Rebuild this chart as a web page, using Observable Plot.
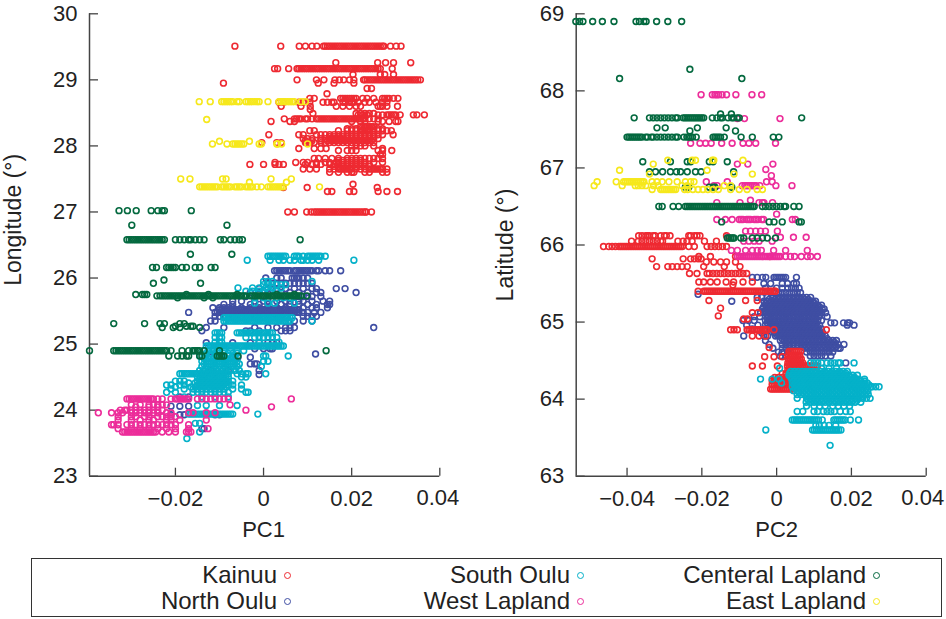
<!DOCTYPE html>
<html>
<head>
<meta charset="utf-8">
<script src="https://cdn.jsdelivr.net/npm/d3@7"></script>
<script src="https://cdn.jsdelivr.net/npm/@observablehq/plot@0.6"></script>
<style>
html,body{margin:0;padding:0;background:#fff;font-family:"Liberation Sans",Arial,sans-serif;}
#page{position:relative;width:946px;height:619px;overflow:hidden;}
#left,#right{position:absolute;top:0;}
#left{left:0;} #right{left:473px;}
#legend{position:absolute;left:31px;top:558px;width:911px;height:59px;border:1.5px solid #333;box-sizing:border-box;}
.lg{position:absolute;font-size:24px;color:#222;line-height:26px;text-align:right;white-space:nowrap;}
.rg{position:absolute;width:7px;height:7px;border-radius:50%;border:1.6px solid;box-sizing:border-box;}
</style>
</head>
<body>
<div id="page"><div id="left"></div><div id="right"></div><div id="legend"></div></div>
<script>
// Each row: [latitude or longitude, [PC score x 1000, ...]]
const names = ["Kainuu","North Oulu","South Oulu","West Lapland","Centeral Lapland","East Lapland"];
const colors = ["#ee2a32","#3f4ea3","#05b1c9","#ec2d9a","#04693f","#f6e81c"];
const drawOrder = ["North Oulu","Kainuu","South Oulu","West Lapland","Centeral Lapland","East Lapland"];
const xTicksPC1 = [-0.02,0,0.02,0.04];
const xTicksPC2 = [-0.04,-0.02,0,0.02,0.04];
const yTicksLon = [23,24,25,26,27,28,29,30];
const yTicksLat = [63,64,65,66,67,68,69];

const kainuuPC1 = [
[29.51,[-6.5,3.9,8.1,9.5,11,12.1,13.6,14,14.5,15,15.5,16,16.5,17,17.5,18,18.5,19,19.5,20,20.5,21,21.5,22,22.5,23,23.5,24,24.5,25,25.5,26,26.5,27,27.3,28.8,30.1,31.2]],
[29.26,[16.4,25.9,27.7,29.5,33.4]],
[29.17,[2.5,3.2,5.7,7.6,8,8.5,9,9.5,10,10.5,11,11.5,12,12.5,13,13.5,14,14.5,15,15.5,16,16.5,17,17.5,18,18.5,19,19.5,20,20.5,21,21.5,22,22.5,23,23.5,24,24.5,25,25.5,26,26.5,29.2]],
[29.08,[20.3,26.5,27.5,29.5]],
[29.0,[7.6,12,13.7,16.2,17.2,18.2,19.5,20.5,22.7,23,23.5,24,24.5,25,25.5,26,26.5,27,27.5,28,28.5,29,29.5,30,30.5,31,31.5,32,32.5,33,33.5,34,34.5,35,35.6]],
[28.95,[-9.1,12.4,16,20.5]],
[28.87,[23.5,24.5]],
[28.79,[14.4]],
[28.72,[10.5,11.5,17.5,18,18.5,19,19.5,20,20.5,21,22.5,23.5,25,27,27.5,28,28.5,29.5,30.5]],
[28.66,[3.5,4.5,8,9,10.5,13.5,14.5,15.5,16,18,18.5,19.5,20,20.5,21.5,23,24,25.5,27,28]],
[28.6,[4,8.5,10.6,16.5,18,19.5,21,22,26,26.5,27,28,30.4]],
[28.55,[10.6]],
[28.49,[11.2,21,22,23,24,25]],
[28.47,[21.5,22.5,23.5,26,27,28,28.5,29,29.5,30,31,34,34.8,36.5]],
[28.41,[4.7,7,7.5,8,8.5,9.5,10,11,12,12.5,13,13.5,14,14.5,15,15.5,16,16.5,17,17.5,18,18.5,19,19.5,20,20.5,21,21.5,22,22.5,23,24,25,26]],
[28.37,[1.7,6,7,20,22,23,26,27,28.5,30,30.5]],
[28.29,[22,23,24,24.5,25,23.5]],
[28.26,[19,20,21,22,23,24,25,26,27]],
[28.23,[10.5,11.5,17,19,20,21,22,22.5,23,23.5,24,25,26,27,28,29]],
[28.17,[1.2,8,9,12,13,14,15,16,17,18,19,20,21,22,23,24,25,26,27,29.4]],
[28.14,[15,16,17,18,19,20,21,22,23,24,25]],
[28.11,[9,10,11,13,14,15,15.5,16,16.5,17,17.5,18,19,20,21,22,23,24,25,26]],
[28.08,[9.5,11,13,14.5,15.5,16.5,17.5,18.5,19.5,20.5,21.5,22.5,23.5,24.5]],
[28.05,[-0.4,3,4,9.5,10.5,11.5,13,14,15,16,17,18,19,20,21,22,23,24,25]],
[28.0,[20,21,22,23,25]],
[27.96,[8,11.5,13,14.2,27]],
[27.93,[17,19,20,21,26,27,29.1]],
[27.87,[26.5,27]],
[27.81,[11.5,12.5,14,15.5,17,19,20,21,22,23,24,25,26,27]],
[27.78,[17,18,19,20,21,22]],
[27.75,[2.6,7.3,9,10,12,14,15,16.5,17,18,19,20,21,22,23,25,27]],
[27.72,[-3.1,0,2.6,3.5,4.5,9.5,11,12,13,15,16,17,18,19,20,21,22,23,24]],
[27.69,[16,17,18,19,20,21,22,23,24]],
[27.65,[9,10.5,12,15,16,17,17.5,18,18.5,19,19.5,20,21,22,23,24,24.5,25,25.5,26,26.5,27,28]],
[27.6,[15,17,19,20,20.5,23,24,27,28]],
[27.42,[20.3]],
[27.37,[4.5,9.9,25.8]],
[27.31,[14.5,15.5,19.5,20.5,26,28,30.4]],
[27.0,[5.5,7,9.8,10.8,11.5,12,12.5,13,13.5,14,14.5,15,15.5,16,16.5,17,17.5,18,18.5,19,19.5,20,20.5,21,21.5,22,22.5,23,23.3,24.5]]
];
const northPC1 = [
[26.11,[2.5,3,3.5,4,4.5,5,5.5,6,7,7.5,8,8.5,9,9.5,10,10.5,11,12,12.5,14,15,17.5]],
[26.0,[0.5,3,4,6.5,7,7.5,8,9,10]],
[25.92,[1,2,3,4,5,6,7,8,9,10,11]],
[25.84,[-1,1,3,5,7,9,11,12,16.5,18.5]],
[25.78,[-3,-1,1,4,6,8,10,12,13,21]],
[25.72,[-4,-2,0,5,7,8,9,10,11,13]],
[25.65,[-7,-5,-2,0,1,3,5,6,8,9,11,13.5,15]],
[25.6,[-9,-7,-3,-1,1,4,6,8,10,12,14.5,15]],
[25.55,[-11.5,-10,-9,-8,-7,-5,-3,-1,1,3,5,7,9,11,12,14.5]],
[25.52,[-10,-9.5,-9,-8.5,-8,-7.5,-7,-6.5,-6,-5.5,-5,-4.5,-4,-3.5,-3,-2.5,-2,-1.5,-1,-0.5,0,0.5,1,1.5,2,2.5,3,3.5,4,4.5,5,5.5,6,6.5,7,7.5,8]],
[25.48,[-17,-11,-10.5,-10,-9.5,-9,-8.5,-8,-7.5,-7,-6.5,-6,-5.5,-5,-4.5,-4,-3.5,-3,-2.5,-2,-1.5,-1,-0.5,0,0.5,1,1.5,2,2.5,3,3.5,4,4.5,5,5.5,6,6.5,7,7.5,8,9,10,11.5,13]],
[25.42,[-11,-10,-9,-8,-7,-6,-5,-4,-3,-2,-1,0,1,2,3,4,9,10,11,12]],
[25.35,[-12,-11,7,9,11]],
[25.25,[-13,-9,-2,1,3,5,6,7,25]],
[25.2,[-14,-4,-3,-1,4,5,6]],
[25.02,[-13,-7,-3,-1,1,2,3]],
[24.93,[-2,0,1.5,2]],
[24.85,[11.8]],
[24.8,[-12,-9,-7,-5.8,-3]],
[24.7,[-3,-2,-1.5]],
[24.6,[-12,-8,-1]],
[24.54,[-1]],
[24.2,[-19,-17]],
[24.06,[-21,-19,-17]],
[23.93,[-21,-19,-18,-13,-11,-10]],
[23.72,[-14,-13.5]]
];
const southPC1 = [
[26.33,[1,1.5,2,2.5,3,3.5,4,4.5,5,7,7.5,8,9,10,10.5,11,11.5,12,12.5,13,14]],
[26.27,[-3.7,1.5,3.5,4.5,6,7,8.5,9,10,11,12.5,20.5]],
[25.95,[0,1,2,11]],
[25.9,[0,1,2,3,4,5]],
[25.85,[-5.8,-2.5,-1,0.5,2,4]],
[25.8,[-4,-2.5,-1,0,1.5,3]],
[25.7,[-2,0,3,4.5,6]],
[25.62,[-2,1,2.5,7]],
[25.4,[-9,-8.5,-8,-7.5,-7,-6.5,-6,-5.5,-5,-4.5,-4,-3.5,-3,-2.5,-2,-1.5,-1,-0.5,0,0.5,1,1.5,2,2.5,3,3.5,4,4.5,5,5.5,6,6.5]],
[25.35,[-9,-8.5,-8,-7.5,-7,-6.5,-6,-5.5,-5,-4.5,-4,-3.5,-3,-2.5,-2,-1.5,-1,-0.5,0,0.5,1,1.5,2,2.5,3,3.5,4,4.5,5,5.5,6,11]],
[25.17,[-11,-10.5,-10,-9.5,-6,-5.5,-5,-4.5,-4,-3.5,-3,-2.5,-2,-1.5,-1,-0.5,0,0.5,1,1.5,2]],
[25.1,[-11,-10,-9.5,-4,-2,-1,0,1,2,3]],
[25.03,[-11,-10,-9.5,-1,3.5]],
[24.97,[-13,-12.5,-12,-11.5,-11,-10.5,-10,-9.5,-9,-8.5,-8,-7.5,-7,-6.5,-6,-5.5,-5,-4.5,-4,-3.5,-3,-2.5,-2,-1.5,-1,-0.5,0,0.5,1,1.5,2,2.5,3,3.5,4,4.5]],
[24.9,[-16,-15,-13.5,-12.5,-11.5,-10.5,-9,-7.5,-6,-4.5]],
[24.86,[-13,-12,-11,-10,-9,-8,-7,-6]],
[24.82,[-14.5,-13.5,-12,-10.5,-9,-8,-6.5,0,0.5,5.6]],
[24.78,[-13.5,-12.5,-11.5,-10.5,-9.5,-8.5,-7.5,-6.5]],
[24.74,[-14,-13,-12,-11,-10,-9,-8,-7,-6,0,1]],
[24.7,[-13.5,-12.5,-11.5,-10.5,-9.5,-8.5,-7.5,-6.5,-5.5]],
[24.66,[-14,-13,-12,-11,-10,-9,-8,-7,-6,-0.5]],
[24.6,[-14.5,-13.5,-12.5,-11.5,-10.5,-9.5,-8.5,-7.5,-6.5,-5.5]],
[24.55,[-19,-18.5,-18,-17.5,-17,-16.5,-16,-15.5,-15,-14.5,-14,-13.5,-13,-12.5,-12,-11.5,-11,-10.5,-10,-9.5,-9,-8.5,-8,-6,-5,-4,-3.5,0.5]],
[24.5,[-15,-14,-13,-12,-11,-10,-9,-8,-5,-4]],
[24.47,[-14.5,-13.5,-12.5,-11.5,-10.5,-9.5,-8.5]],
[24.44,[-20,-19,-18,-15,-14,-13,-12,-11,-10,-9,-8,-7]],
[24.41,[-17,-15.5,-14.5,-13.5,-12.5,-11.5,-10.5,-9.5,-8.5]],
[24.38,[-22,-21,-19,-18,-15,-14,-13,-12,-11,-10,-9,-8,-7,-5]],
[24.35,[-20,-16.5,-15.5,-14.5,-13.5,-12.5,-11.5,-10.5,-9.5,-8.5]],
[24.32,[-21,-18,-16,-15,-14,-13,-12,-11,-10,-9,-7,-5]],
[24.27,[-22,-20,-16,-15,-14,-13,-12,-11,-10,-9,-8,-4,-3.5]],
[24.2,[-18,-14,-11,-8]],
[24.07,[-15,-13,-10,-6]],
[23.94,[-17,-16.5,-16,-15.5,-15,-14.5,-14,-13.5,-13,-12.5,-12,-11.5,-11,-10.5,-10,-9.5,-9,-8.5,-8,-7.5,-7,-1.3]],
[23.8,[-15.5,-14.5]],
[23.67,[-14.5]],
[23.57,[-17.4]]
];
const westPC1 = [
[24.17,[-31,-30.5,-30,-29.5,-29,-28.5,-28,-27.5,-27,-26.5,-26,-25.5,-25,-24,-23,-21,-20,-19.5,-19,-18.5,-18,-17.5,-17,-15,-14,-13,-12,-11,-10,-9,-8,6.3]],
[24.08,[-30,-28,-26,-25,-24,-23,-22,-7.6]],
[24.05,[-29,-26,-24,1.8]],
[24.0,[-32.5,-31.5,-31,-30,-29,-28,-27,-26,-25,-24,-23,-4]],
[23.96,[-37.5,-34.5,-33,-32,-30,-29,-28,-27,-26,-25,-24,-22,-21,-17,-16,-13,-11]],
[23.9,[-33,-30,-29,-27,-26,-24,-23,-22,-21,-20]],
[23.85,[-33,-30,-28,-26,-25,-22,-21,-19,-13]],
[23.78,[-34.5,-34,-33,-31,-30,-29,-28,-27,-26,-25,-24,-23,-22,-21,-20,-17]],
[23.72,[-33,-30,-28,-26,-24,-22,-20,-17,-12.6]],
[23.67,[-32,-31.5,-31,-30.5,-30,-29.5,-29,-28.5,-28,-27.5,-27,-26.5,-26,-25.5,-25,-24.5,-23,-21.5,-20,-17.5,-17,-16.5]]
];
const centralPC1 = [
[27.02,[-32.8,-30.9,-28.9,-25.5,-24,-23,-22.5,-16.4]],
[26.8,[-29.9,-8.3]],
[26.58,[-31,-30.5,-30,-29.5,-29,-28.5,-28,-27.5,-27,-26.5,-26,-25.5,-25,-24.5,-24,-23.5,-23,-22.5,-20,-19,-18,-17,-16.5,-15.5,-14.5,-13.5,-9.8,-9,-7.5,-6.5,-5.5,-4.8,8.3]],
[26.36,[-16.6,-7.2]],
[26.16,[-25.2,-24.3,-22,-21.5,-21,-20.5,-20,-18.5,-17.5,-15.5,-14.5,-11.9,-11]],
[25.97,[-22.6]],
[25.92,[-25,-14.3]],
[25.75,[-29,-27.5,-27,-26.5,-17.5,-12.5,-6,3,7]],
[25.73,[-24.2,-23.5,-23,-22.5,-22,-21.5,-21,-20.5,-20,-19.5,-19,-18.5,-18,-17.5,-17,-16.5,-16,-15.5,-15,-14.5,-14,-13.5,-13,-12.5,-12,-11.5,-11,-10.5,-10,-9.5,-9,-8.5,-8,-7.5,-7,-6.5,-6,-5.5,-5,-4.5,-4,-3,-2.5,-2,-1.5,-1,-0.5,0,0.5,1,1.5,2,2.5,3,3.5,4,4.5,5,5.5,6,6.5,7,7.5,8,8.5,9.8]],
[25.7,[-19.5,-13.5,-11.5]],
[25.31,[-34,-27,-23.5,-22.5,-19,-18]],
[25.27,[-20,-17.5,-16.5,-16]],
[25.25,[-23,-20.5,-19,-14.5]],
[24.9,[-39.5,-34,-33.5,-33,-32.5,-32,-31.5,-31,-30.5,-30,-29.5,-29,-28.5,-28,-27.5,-27,-26.5,-26,-25.5,-25,-24.5,-24,-23.5,-23,-22.5,-22,-21,-18.5,-17,-16,-15.5,-15,-14.5,-13.5,-10,14.2]],
[24.82,[-21.5,-19.5,-18.5,-17.5,-17,-14.5,-14,-10.5,-10,-9.5,-9,-5.8]]
];
const eastPC1 = [
[28.67,[-14.6,-12.1,-9.5,-9,-8.5,-8,-7.5,-7,-6,-5.5,-4,-3.5,-3,-2.5,-2,-1.5,-1,1,3.5,4,4.5,5,5.5,6,6.5,7,8.5,9.5]],
[28.4,[-12.9]],
[28.07,[-10,-3.2]],
[28.03,[-11.6,-8.3,-7,-6.5,-6,-5.5,-5,-4.5,-1,-0.5,3,3.2,4.1,10]],
[27.5,[-18.8,-16.7,-9.3,-8.5,1.7,6.3]],
[27.45,[-3.2,5.2]],
[27.38,[-14.5,-14,-13.5,-13,-12.5,-12,-11.5,-11,-10.5,-9.5,-9,-8.5,-8,-7.5,-6.5,-6,-5.5,-5,-4,-3.5,-3,-2.5,-1.5,-0.5,1,1.5,2,2.5,3,3.5,4,4.5,12.7]]
];

const kainuuPC2 = [
[66.12,[-36.9,-36,-35,-34.5,-34,-33,-32.5,-31,-30,-29.5,-28.5,-23.5,-23,-22,-21.3,-20.5,-13.4]],
[66.05,[-38.8,-37,-36,-35,-34,-33,-32,-31,-30.5,-26.4,-25,-24,-22.6,-19.3,-16.1]],
[65.98,[-46.3,-44.9,-44,-43.1,-42.2,-41.7,-41.2,-40.7,-40.2,-39.7,-39.2,-38.7,-38.2,-37.7,-37.2,-36.7,-36.2,-35.7,-35.2,-34.7,-34.2,-33.7,-33.2,-32.7,-32.2,-31.7,-31.2,-30.7,-30.2,-29.7,-29.2,-28.7,-28.2,-27.7,-27.2,-26.7,-26.2,-25.7,-25.2,-23.5,-22,-18.6,-17.5,-16.5,-15.5,-14.5,-13.4]],
[65.85,[-20.8,-17.7,-11,-1.8]],
[65.82,[-33.3,-25,-23,-22,-21,-20.2]],
[65.78,[-18.8,-16.8,-15,-13.4,-11]],
[65.72,[-32.1,-29.1,-27.9,-26.6,-25.3,-23.9,-19.5,-14,-9.8]],
[65.63,[-23.3,-21.3,-18.6,-18,-17,-16,-15,-14,-13,-12,-11,-10,-9,-8]],
[65.52,[-20.8,-19.5,-17.7,-15.9,-13.5,-11.5,-9,-6.5]],
[65.48,[-11.7]],
[65.4,[-21,-19.5,-19,-18.5,-18,-17.5,-17,-16.5,-16,-15.5,-15,-14.5,-14,-13.5,-13,-12.5,-12,-11.5,-11,-10.5,-10,-9.5,-9,-8.5,-8,-7.5,-7,-6.5,-6,-5.5,-5,-4.5,-4,-3.5,-3,-2.5,-2,-1.5,-1,-0.5,-0.3]],
[65.28,[-18.1,-8.3,-5.2]],
[65.18,[-15]],
[65.12,[-6.5,-5]],
[65.08,[-15.6]],
[65.04,[-8.8,-7.8]],
[64.9,[-12.3,-11.4,-10.5,-7.9,-7.4,-6.9,-6.4,-5.9,-5.4,-4.9,-4.4,-3.9,-3.4,-2.9,-2.5,-0.7,13.3]],
[64.82,[-6.5,-4.7,-2.9]],
[64.67,[-2]],
[64.62,[3.3,3.8,4.3,4.8,5.3,5.8,6.4]],
[64.57,[3.2,3.7,4.2,4.7,5.2,5.7,6.2]],
[64.55,[-3.2,-0.7,1.5]],
[64.52,[3.1,3.6,4.1,4.6,5.1,5.6,6.1,6.6]],
[64.47,[3,3.5,4,4.5,5,5.5,6,6.5,7]],
[64.43,[-6.5,-3.8,0.2,2.9,3.4,3.9,4.4,4.9,5.4,5.9,6.4,6.9,7.4,7.9,8.4,8.9,9.4,9.9,10.4,10.9]],
[64.38,[3,3.5,4,4.5,5,5.5,6]],
[64.33,[1.5,2.5,3.5]],
[64.28,[-0.5,0.5,1.5,2.5,3.5]],
[64.24,[-1.2,-0.7,-0.2,0.3,0.8,1.3,1.8,2.3,2.8,3.3,3.8,4.2]],
[64.19,[-1.2,-0.7,-0.2,0.3,0.8,1.3,1.8,2.3,2.8,3.3,3.8,4.2]],
[64.13,[-1.6,-1.1,-0.6,-0.1,0.4,0.9,1.4,1.9,2.4,2.9,3.4,3.9,4.2]]
];
const northPC2 = [
[65.58,[-6.5,-5.2,-3.8,-2.9,-0.7,-0.2,0.3,0.8,1.3,1.8,2.4,5.3]],
[65.5,[-3.4,-1.6,1.5,2.9,4.6,5.3]],
[65.44,[-3,0,1.5,3,4,5,6]],
[65.38,[-1.6,-0.5,0.5,1.5,2.5,3.5,4.5,5.5,6.4]],
[65.36,[-21]],
[65.32,[-5.2,-4,-2.5,-1,0,1,2,3,4,5,6,7,8,9.1]],
[65.295,[-2,-0.5,0.5,1.5,2.5,3.5,4.5,5.5,6.5,7.5,8.5]],
[65.27,[-12,-3.4,-2.4,-1.4,-0.4,0.6,1.6,2.6,3.6,4.6,5.6,6.6,7.6,8.6,9.6,10.4]],
[65.245,[-2.9,-1.9,-0.9,0.1,1.1,2.1,3.1,4.1,5.1,6.1,7.1,8.1,9.1,10.1]],
[65.22,[-3,-2,-1,0,1,2,3,4,5,6,7,8,9,10,11,12]],
[65.195,[-3.5,-2.5,-1.5,-0.5,0.5,1.5,2.5,3.5,4.5,5.5,6.5,7.5,8.5,9.5,10.5,11.5]],
[65.17,[-3.8,-2.8,-1.8,-0.8,0.2,1.2,2.2,3.2,4.2,5.2,6.2,7.2,8.2,9.2,10.2,11.2,12.2,12.7]],
[65.145,[-3.3,-2.3,-1.3,-0.3,0.7,1.7,2.7,3.7,4.7,5.7,6.7,7.7,8.7,9.7,10.7,11.7]],
[65.12,[-4.3,-3,-2,-1,0,1,2,3,4,5,6,7,8,9,10,11,12,13.1]],
[65.095,[-2.5,-1.5,-0.5,0.5,1.5,2.5,3.5,4.5,5.5,6.5,7.5,8.5,9.5,10.5,11.5]],
[65.07,[-6,-4.5,-2.5,-1.5,-0.5,0.5,1.5,2.5,3.5,4.5,5.5,6.5,7.5,8.5,9.5,10.5,11.3,13.5]],
[65.045,[-2.5,-1.5,-0.5,0.5,1.5,2.5,3.5,4.5,5.5,6.5,7.5,8.5,9.5,10.5]],
[65.02,[-9,-7.5,-6,-3,-2,-1,0,1,2,3,4,5,6,7,8,9,10,11,12]],
[64.99,[-2.5,-1.5,-0.5,0.5,1.5,2.5,3.5,4.5,5.5,6.5,7.5,8.5,9.5,10.5,14.5,15.5,17.9,19,19.5]],
[64.96,[-8,-5,-3,-1.5,-0.5,0.5,1.5,2.5,3.5,4.5,5.5,6.5,7.5,8.5,9.5,10.5,11.5,18.9,20.7]],
[64.935,[-2,-1,0,1,2,3,4,5,6,7,8,9,10,11]],
[64.91,[-6.5,-3.3,-2,-1,0,1,2,3,4,5,6,7,8,9,10,11,12]],
[64.885,[-0.5,0.5,1.5,2.5,3.5,4.5,5.5,6.5,7.5,8.5,9.5,10.5,11.5]],
[64.86,[-4,-0.7,0.3,1.3,2.3,3.3,4.3,5.3,6.3,7.3,8.3,9.3,10.3,11.3,12.3]],
[64.84,[0,1,2,3,4,5,6,7,8,9,10,11,12]],
[64.82,[-8.8,-3.4,-2.4,-0.3,0.7,1.7,2.7,3.7,4.7,5.7,6.7,7.7,8.7,9.7,10.7,11.7,13]],
[64.785,[1.5,2.5,3.5,4.5,5.5,6.5,7.5,8.5,9.5,10.5,11.5,12.5,13.5]],
[64.76,[-3,1,2,3,4,5,6,7,8,9,10,11,12,13,14,15,16]],
[64.735,[2.5,3.5,4.5,5.5,6.5,7.5,8.5,9.5,10.5,11.5,12.5,13.5,14.5,15.5]],
[64.71,[-2,1.5,2.5,3.5,4.5,5.5,6.5,7.5,8.5,9.5,10.5,11.5,12.5,13.5,14.5,15.5,16.5,18]],
[64.685,[7,8,9,10,11,12,13,14,15,16]],
[64.66,[-1,1.5,2.5,3.5,7.5,8.5,9.5,10.5,11.5,12.5,13.5,14.5,15.5,16.5,17]],
[64.61,[0.5,1.5,3,8,9,10,11,12,13,14,15]],
[64.56,[1,2.5,9,10,11,12,13,14.5]],
[64.47,[18.5]]
];
const southPC2 = [
[64.47,[9.1,10,11,12,13.5,14.5,15.5,16.5,17,20.7]],
[64.4,[12,14,16,0.8]],
[64.36,[3.8,4.8,5.8,6.8,7.8,8.8,9.8,10.8,11.8,12.8,13.8,14.8,15.8,16.8,17.8,18.9]],
[64.335,[3.5,4.5,5.5,6.5,7.5,8.5,9.5,10.5,11.5,12.5,13.5,14.5,15.5,16.5,17.5,18.5]],
[64.31,[3.3,4.3,5.3,6.3,7.3,8.3,9.3,10.3,11.3,12.3,13.3,14.3,15.3,16.3,17.3,18.3,19.3,20.3,21.6]],
[64.285,[3.8,4.8,5.8,6.8,7.8,8.8,9.8,10.8,11.8,12.8,13.8,14.8,15.8,16.8,17.8,18.8,19.8,20.8]],
[64.26,[-4.3,-1.2,0.6,4,5,6,7,8,9,10,11,12,13,14,15,16,17,18,19,20,21,22,23.5]],
[64.235,[4.5,5.5,6.5,7.5,8.5,9.5,10.5,11.5,12.5,13.5,14.5,15.5,16.5,17.5,18.5,19.5,20.5,21.5,22.5,23.5]],
[64.21,[1.3,4.2,5.2,6.2,7.2,8.2,9.2,10.2,11.2,12.2,13.2,14.2,15.2,16.2,17.2,18.2,19.2,20.2,21.2,22.2,23.2,24.2]],
[64.185,[4.7,5.7,6.7,7.7,8.7,9.7,10.7,11.7,12.7,13.7,14.7,15.7,16.7,17.7,18.7,19.7,20.7,21.7,22.7,23.7,24.7]],
[64.16,[4.2,5.2,6.2,7.2,8.2,9.2,10.2,11.2,12.2,13.2,14.2,15.2,16.2,17.2,18.2,19.2,20.2,21.2,22.2,23.2,24.2,25.2,25.6,26.5,27.4]],
[64.135,[5,6,7,8,9,10,11,12,13,14,15,16,17,18,19,20,21,22,23,24]],
[64.11,[4.5,5.5,6.5,7.5,8.5,9.5,10.5,11.5,12.5,13.5,14.5,15.5,16.5,17.5,18.5,19.5,20.5,21.5,22.5,23.5,24.4]],
[64.085,[6,7,8,9,10,11,12,13,14,15,16,17,18,19,20,21,22,23,24]],
[64.06,[5.5,6.5,7.5,8.5,9.5,10.5,11.5,12.5,13.5,14.5,15.5,16.5,17.5,18.5,19.5,20.5,21.5,22.5,23.5,24.5]],
[64.035,[8,9,10,11,12,13,14,15,16,17,18,19,20,21,22,23]],
[64.01,[5.5,8,9,10,11,12,13,14,15,16,17,18,19,20,21,22,23,24,25]],
[63.985,[8.5,9.5,10.5,11.5,12.5,13.5,14.5,15.5,16.5,17.5,18.5,19.5,20.5,21.5]],
[63.96,[7.9,9,10,11,12,13,14,15,16,17,18,19,20,21,22.5]],
[63.91,[8,10,11.5,13,15,16.5,18,19.5]],
[63.84,[5.5,7,10,11,12.5,13.5,14.5,15.5,17,18.5,19.7]],
[63.73,[4.2,4.7,5.2,5.7,6.2,6.7,7.2,7.7,8.2,8.7,9.2,9.7,10.2,10.7,11.2,12.2,15.3,15.8,16.3,16.8,17.3,17.8,18.3,19.7,21.9]],
[63.66,[10.5,11.4,12.7,14,15.8]],
[63.6,[-2.9,9.6,10.1,10.6,11.1,11.6,12.1,12.6,13.1,13.6,14.1,14.6,15.1,15.6,16.1,16.6,17.2]],
[63.4,[14.3]]
];
const westPC2 = [
[67.95,[-20.2,-17.2,-16.5,-16,-15.5,-14.6,-13.4,-10.9,-6.6,-4]],
[67.64,[-10.5,-8.6,0.9]],
[67.32,[-23,-20.5,-19,-17.5,-14.7,-11.9,-9,-7.4,-5.6,-0.3]],
[67.05,[-10.5,-7.7,-1]],
[66.98,[-2.9]],
[66.9,[-1.4]],
[66.82,[-18.8,-13.2,-2.7,-1.2]],
[66.77,[-16.8,-15.9,-9.2,-8.5,-8,-7.5,-7,-6.5,-6,-5.5,-4.5,-0.2,4.1]],
[66.58,[-7]],
[66.55,[-16,-9.8,-4.7,-3.8,-3.4,-1.1]],
[66.4,[0]],
[66.33,[-16,-13.7,-11.9,-10,-9.5,-9,-8,-7.5,-7,-6,-5.5,-5,-4,-3.5,4.2,5]],
[66.18,[-8.3,-7,-5.6,-4.3,-3,0.2]],
[66.1,[-13,1,4.5,7.9]],
[66.05,[-8.8,-7.4,-6,-4.7,-1.2]],
[65.93,[-12.1,-10.5,-8.3,-6.5,-5.2,-4.1,-0.8,2.4,8.2]],
[65.85,[-10.5,-10,-9.5,-9,-8.5,-8,-7.5,-7,-6.5,-6,-5.5,-5,-4.5,-4,-3.5,-3,-2.5,-2,-1.5,-1,-0.5,0,0.5,1,2.4,3.7,4.8,6.6,8.2,9.1,10.9]]
];
const centralPC2 = [
[68.9,[-53.7,-52.7,-51.8,-49.2,-46.6,-43.5,-37.6,-36.7,-35.5,-34.9,-32.1,-29.1,-25.4]],
[68.28,[-23.2]],
[68.16,[-42,-9.3]],
[67.7,[-15,-12.1]],
[67.65,[-38.1,-34,-33,-32,-31,-30,-29,-28,-27,-26.5,-25,-24.5,-24,-23.5,-23,-22.5,-22,-21.5,-21,-20.5,-20,-19.5,-17.2,-16,-15,-14.5,-13,-12,-11.5,-10.5,-10,6.7]],
[67.52,[-32,-29.8,-21.2,-13.5]],
[67.48,[-23.2,-11]],
[67.4,[-40,-39.5,-39,-38.5,-38,-37.5,-37,-36.5,-36,-35,-34.5,-33.5,-33,-32,-31,-30,-29,-28,-27,-26.5,-24.8,-24,-23.5,-23,-22.5,-21.5,-17,-16.5,-16,-15.5,-15,-14,-9.5,-6.5,-0.9,0.6]],
[67.08,[-35.8,-28.4,-23.9,-23,-18,-17,-13.2]],
[66.95,[-34,-32.4,-30.5,-28.4,-26.8,-25.7,-23.9,-21.7,-20.2,-11.5]],
[66.75,[-24.4,-23.5,-18,-17,-16.5,-12]],
[66.5,[-31.5,-30.6,-27.7,-26.2,-24.4,-23.9,-23.4,-22.9,-22.4,-21.9,-21.4,-20.9,-20.4,-19.9,-19.4,-18.9,-18.4,-17.9,-17.4,-16.9,-16.4,-15.9,-15.4,-14.9,-14.4,-13.9,-13.4,-12.9,-12.4,-11.9,-11.4,-10.9,-10.4,-9.9,-9.4,-8.9,-8.4,-7.9,-7.4,-6.9,-6.4,-6,-3.8,-3,-2,-1,0,1,2,2.4,4.6,6]],
[66.3,[-14.7,-2,-0.7,1.5,6,6.6]],
[66.09,[-13.2,-12.7,-12.2,-11.7,-11.4,-9.6,-8.8,-6.5,-5.2,-3.8,-2.5,-0.3]]
];
const eastPC2 = [
[67.1,[-29.1,-22.6,-21.7,-17.2,-16.8,-9]],
[67.05,[-33]],
[66.97,[-42,-18.6]],
[66.92,[-34,-11.4,-6.5]],
[66.82,[-48,-42.9,-40.9,-40.4,-39.9,-39.4,-38.9,-38.4,-37.9,-37.4,-36.9,-36.4,-35.9,-35.5,-33.3,-32,-30.6,-28.8,-26.6,-24.4,-23,-22.1]],
[66.77,[-48.8,-41.3,-37.8,-37,-36,-35,-32.9,-31.7,-25.3,-23.9,-14,-12.3]],
[66.72,[-33.3,-31,-30.5,-30,-29.5,-29,-28.5,-28,-27.5,-27,-24.6,-23.8,-22.4,-21,-19.7,-18.4,-17,-15.6,-12.3,-10,-7.9,-5.2,-3.8]]
];

function flatten(rows, region, yKey, xKey) {
  const out = [];
  for (const [y, xs] of rows) for (const x of xs) out.push({region, [yKey]: y, [xKey]: x / 1000});
  return out;
}
const seriesPC1 = {"Kainuu":kainuuPC1,"North Oulu":northPC1,"South Oulu":southPC1,"West Lapland":westPC1,"Centeral Lapland":centralPC1,"East Lapland":eastPC1};
const seriesPC2 = {"Kainuu":kainuuPC2,"North Oulu":northPC2,"South Oulu":southPC2,"West Lapland":westPC2,"Centeral Lapland":centralPC2,"East Lapland":eastPC2};
const tablePC1 = drawOrder.flatMap(n => flatten(seriesPC1[n], n, "lon", "pc"));
const tablePC2 = drawOrder.flatMap(n => flatten(seriesPC2[n], n, "lat", "pc"));

const fmtX = d => d === 0 ? "0" : (d < 0 ? "\u2212" : "") + Math.abs(d).toFixed(2);
const axisColor = "#444";
const font = '"Liberation Sans",Arial,sans-serif';

function panel({table, yKey, xDomain, yDomain, xTicks, yTicks, xLabel, yLabel, yLabelAt, marginLeft, marginRight, labelDx, lastDx}) {
  const last = xTicks[xTicks.length - 1];
  return Plot.plot({
    width: 473, height: 545,
    marginLeft, marginRight, marginTop: 13.3, marginBottom: 545 - 475.7,
    style: {fontFamily: font, background: "transparent", overflow: "visible"},
    x: {domain: xDomain, label: null},
    y: {domain: yDomain, label: null},
    color: {domain: names, range: colors},
    marks: [
      Plot.ruleX([xDomain[0]], {stroke: axisColor, strokeWidth: 1.5}),
      Plot.ruleY([yDomain[0]], {stroke: axisColor, strokeWidth: 1.5}),
      Plot.axisX({ticks: xTicks, tickSize: -8, tickPadding: 22, tickFormat: d => d === last ? "" : fmtX(d), fontSize: 22, stroke: axisColor, strokeWidth: 1.3, fill: "#222", label: null}),
      Plot.axisY({ticks: yTicks, tickSize: -9, tickPadding: 21, tickFormat: d => String(d), fontSize: 22, stroke: axisColor, strokeWidth: 1.3, fill: "#222", label: null}),
      Plot.dot(table, {x: "pc", y: yKey, stroke: "region", r: 2.9, strokeWidth: 1.6, fill: "none", clip: false}),
      Plot.text([last], {x: d => d, frameAnchor: "bottom", lineAnchor: "middle", dx: lastDx, dy: 21.5, fontSize: 22, fill: "#222", text: fmtX}),
      Plot.text([xLabel], {x: [0], frameAnchor: "bottom", lineAnchor: "middle", dy: 54, fontSize: 22, fill: "#222", text: d => d}),
      Plot.text([yLabel], {y: [yLabelAt], frameAnchor: "left", textAnchor: "middle", dx: labelDx, rotate: -90, fontSize: 23, fill: "#222", text: d => d})
    ]
  });
}

document.getElementById("left").appendChild(panel({
  table: tablePC1, yKey: "lon", xDomain: [-0.0395, 0.04], yDomain: [23, 30],
  xTicks: xTicksPC1, yTicks: yTicksLon, xLabel: "PC1", yLabel: "Longitude (\u00b0)", yLabelAt: 26.88,
  marginLeft: 89, marginRight: 473 - 439.3, labelDx: -76, lastDx: -2
}));
document.getElementById("right").appendChild(panel({
  table: tablePC2, yKey: "lat", xDomain: [-0.0536, 0.04], yDomain: [63, 69],
  xTicks: xTicksPC2, yTicks: yTicksLat, xLabel: "PC2", yLabel: "Latitude (\u00b0)", yLabelAt: 66.0,
  marginLeft: 575.7 - 473, marginRight: 473 - (925.7 - 473), labelDx: -71, lastDx: -3.5
}));

// Legend
const legendRows = [
  {name:"Kainuu", col:0, row:0},{name:"South Oulu", col:1, row:0},{name:"Centeral Lapland", col:2, row:0},
  {name:"North Oulu", col:0, row:1},{name:"West Lapland", col:1, row:1},{name:"East Lapland", col:2, row:1}
];
const labelRight = [277, 570, 866], rowCenter = [575, 601];
const pageEl = document.getElementById("page");
for (const l of legendRows) {
  const t = document.createElement("div");
  t.className = "lg"; t.textContent = l.name;
  t.style.right = (946 - labelRight[l.col]) + "px";
  t.style.top = (rowCenter[l.row] - 13) + "px";
  pageEl.appendChild(t);
  const r = document.createElement("div");
  r.className = "rg";
  r.style.left = (labelRight[l.col] + 6.5) + "px";
  r.style.top = (rowCenter[l.row] - 3) + "px";
  r.style.borderColor = colors[names.indexOf(l.name)];
  pageEl.appendChild(r);
}
</script>
</body>
</html>
